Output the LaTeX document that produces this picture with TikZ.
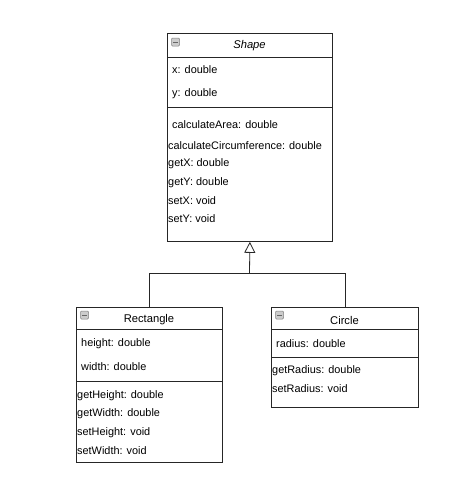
\documentclass[tikz,border=0pt]{standalone}
\usepackage{fontspec}
\setmainfont{Liberation Sans}
\usetikzlibrary{arrows.meta}
\begin{document}
\begin{tikzpicture}[x=1pt,y=-1pt,
  box/.style={draw=black!85, line width=0.8pt, fill=white},
  sep/.style={draw=black!85, line width=0.8pt},
  txt/.style={anchor=west, inner sep=0pt, font=\fontsize{10.9}{12}\selectfont, text=black},
  ttl/.style={inner sep=0pt, font=\fontsize{11.2}{13}\selectfont, text=black},
  icon/.style={draw=black!50, fill=black!20, line width=0.5pt, rounded corners=1pt, minimum width=8pt, minimum height=8pt, inner sep=0pt},
  conn/.style={draw=black!85, line width=0.8pt}]
\useasboundingbox (0,0) rectangle (474,485);
\fill[white] (0,0) rectangle (474,485);

% Shape
\node[box, anchor=north west, minimum width=165pt, minimum height=208pt, inner sep=0pt] (shape) at (167,33) {};
\draw[sep] (167,57) -- (332,57);
\draw[sep] (167,107) -- (332,107);
\node[icon] (ic1) at (175.5,42) {};
\draw[black!60, line width=0.7pt] (173,42) -- (178,42);
\node[ttl] (shapet) at (249.5,45.5) {\itshape Shape};
\node[txt] (sx) at (172,70) {x: double};
\node[txt] (sy) at (172,94) {y: double};
\node[txt] (sca) at (172,125) {calculateArea: double};
\node[txt] (scc) at (168,146) {calculateCircumference: double};
\node[txt] (sgx) at (168,164) {getX: double};
\node[txt] (sgy) at (168,183) {getY: double};
\node[txt] (ssx) at (168,201) {setX: void};
\node[txt] (ssy) at (168,219) {setY: void};

% Rectangle
\node[box, anchor=north west, minimum width=146pt, minimum height=155pt, inner sep=0pt] (rect) at (76,307) {};
\draw[sep] (76,329) -- (222,329);
\draw[sep] (76,381) -- (222,381);
\node[icon] (ic2) at (84.5,315) {};
\draw[black!60, line width=0.7pt] (82,315) -- (87,315);
\node[ttl] (rectt) at (149,320) {Rectangle};
\node[txt] (rh) at (81,344) {height: double};
\node[txt] (rw) at (81,367) {width: double};
\node[txt] (rgh) at (77,396) {getHeight: double};
\node[txt] (rgw) at (77,414) {getWidth: double};
\node[txt] (rsh) at (77,433) {setHeight: void};
\node[txt] (rsw) at (77,451) {setWidth: void};

% Circle
\node[box, anchor=north west, minimum width=147pt, minimum height=100pt, inner sep=0pt] (circ) at (271,307) {};
\draw[sep] (271,329) -- (418,329);
\draw[sep] (271,357) -- (418,357);
\node[icon] (ic3) at (279.5,315) {};
\draw[black!60, line width=0.7pt] (277,315) -- (282,315);
\node[ttl] (circt) at (344.5,320) {Circle};
\node[txt] (cr) at (276,344) {radius: double};
\node[txt] (cgr) at (272,371) {getRadius: double};
\node[txt] (csr) at (272,389) {setRadius: void};

% Connectors
\coordinate (j) at (249.5,273);
\draw[conn] (rect.north) |- (j);
\draw[conn] (circ.north) |- (j);
\draw[conn, -{Triangle[open, length=11pt, width=11pt]}] (j) -- (shape.south);
\end{tikzpicture}
\end{document}
